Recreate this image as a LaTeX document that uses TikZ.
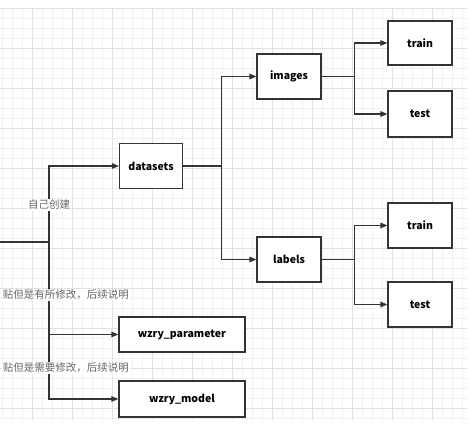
\documentclass[tikz,border=0pt]{standalone}
\usepackage{fontspec}
\setmainfont{Noto Sans CJK SC}
\usepackage{tikz}
\usetikzlibrary{arrows.meta}
\definecolor{figline}{RGB}{51,51,51}
\definecolor{figgrid}{RGB}{240,240,240}
\definecolor{figgridb}{RGB}{225,225,225}
\definecolor{figtext}{RGB}{102,102,102}
\tikzset{
  gmin/.style ={draw=figgrid, line width=0.5pt},
  gmaj/.style ={draw=figgridb, line width=0.6pt},
  bx/.style   ={draw=figline, line width=1.2pt, fill=white, inner sep=0pt,
                font=\fontsize{10.5}{12}\selectfont\bfseries},
  ln/.style   ={draw=figline, line width=1.2pt},
  arr/.style  ={ln, -{Triangle[length=7pt,width=5.5pt]}},
  lab/.style  ={font=\fontsize{10.5}{12}\selectfont, text=figtext, fill=white, inner sep=1pt},
}

\begin{document}
\begin{tikzpicture}[x=1pt,y=-1pt]
  \useasboundingbox (0,0) rectangle (474,427);
  \fill[white] (0,0) rectangle (474,427);
  \foreach \x in {2,12,...,462} \draw[gmin] (\x,8) -- (\x,420);
  \foreach \y in {8,18,...,418} \draw[gmin] (0,\y) -- (468,\y);
  \foreach \x in {32,72,...,432} \draw[gmaj] (\x,8) -- (\x,420);
  \foreach \y in {8,48,...,408} \draw[gmaj] (0,\y) -- (468,\y);

  \node[bx,minimum width=63pt,minimum height=45pt] (datasets) at (151,166) {datasets};
  \node[bx,minimum width=64pt,minimum height=45pt] (images) at (289,76.5) {images};
  \node[bx,minimum width=64pt,minimum height=45pt] (labels) at (289,259.5) {labels};
  \node[bx,minimum width=64pt,minimum height=44pt] (imgtrain) at (420,43) {train};
  \node[bx,minimum width=64pt,minimum height=46pt] (imgtest) at (420,114) {test};
  \node[bx,minimum width=64pt,minimum height=45pt] (labtrain) at (420,225.5) {train};
  \node[bx,minimum width=64pt,minimum height=45pt] (labtest) at (420,304.5) {test};
  \node[bx,minimum width=126pt,minimum height=35pt] (wzryparam) at (182,334.5) {wzry\_parameter};
  \node[bx,minimum width=126pt,minimum height=36pt] (wzrymodel) at (182,399) {wzry\_model};

  \coordinate (src) at (0,242);
  \coordinate (trunk) at (49,242);
  \draw[ln] (src) -- (trunk);
  \draw[arr] (trunk) |- (datasets.west);
  \draw[arr] (trunk) |- (wzryparam.west);
  \draw[arr] (trunk) |- (wzrymodel.west);

  \draw[arr] (datasets.east) -- ++(38,0) |- (images.west);
  \draw[arr] (datasets.east) -- ++(38,0) |- (labels.west);
  \draw[arr] (images.east) -- ++(33,0) |- (imgtrain.west);
  \draw[arr] (images.east) -- ++(33,0) |- (imgtest.west);
  \draw[arr] (labels.east) -- ++(33,0) |- (labtrain.west);
  \draw[arr] (labels.east) -- ++(33,0) |- (labtest.west);

  \node[lab] (selfmade) at (49,205) {自己创建};
  \node[lab,anchor=east] (copymod) at (130,295) {贴但是有所修改，后续说明};
  \node[lab,anchor=east] (copyneed) at (130,368) {贴但是需要修改，后续说明};
\end{tikzpicture}
\end{document}
